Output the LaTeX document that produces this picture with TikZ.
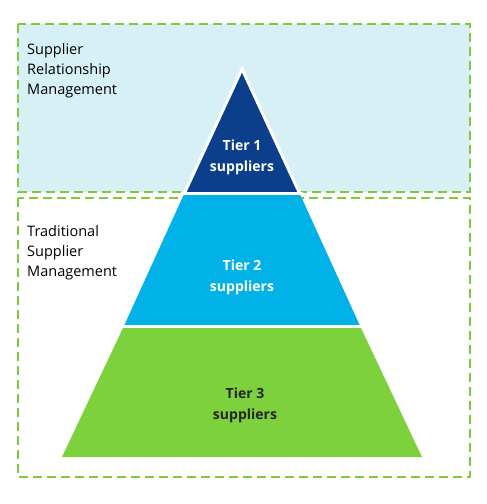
\documentclass[tikz,border=0pt]{standalone}
\usepackage{fontspec}
\setmainfont{Open Sans}
\definecolor{navy}{HTML}{0B3F8C}
\definecolor{cyanb}{HTML}{00B2E8}
\definecolor{greenb}{HTML}{7DD13C}
\definecolor{dashg}{HTML}{7DCB3A}
\definecolor{lightb}{HTML}{D6F0F5}
\begin{document}
\begin{tikzpicture}[x=1pt,y=-1pt,
  zone/.style={draw=dashg,line width=2.6pt,dash pattern=on 9pt off 5pt},
  sep/.style={draw=white,line width=3pt},
  lbl/.style={anchor=north west,align=left,font=\fontsize{14.5}{20}\selectfont,inner sep=0pt,text=black},
  tlbl/.style={align=center,font=\fontsize{14}{21}\selectfont\bfseries,inner sep=0pt}]
\useasboundingbox (0,0) rectangle (487,504);
\fill[white] (0,0) rectangle (487,504);
\draw[zone,fill=lightb] (18,24) rectangle (470,192);
\draw[zone] (18,198) rectangle (470,477);
% pyramid: apex (242,69), base y=457 from 62 to 422
\coordinate (apex) at (242,69);
\coordinate (a1l) at (184.3,193.5);
\coordinate (a1r) at (299.7,193.5);
\coordinate (a2l) at (123.7,326.5);
\coordinate (a2r) at (360.3,326.5);
\coordinate (bl) at (62,457);
\coordinate (br) at (422,457);
\fill[navy] (apex) -- (a1r) -- (a1l) -- cycle;
\fill[cyanb] (a1l) -- (a1r) -- (a2r) -- (a2l) -- cycle;
\fill[greenb] (a2l) -- (a2r) -- (br) -- (bl) -- cycle;
\draw[sep,line join=miter] (a1l) -- (apex) -- (a1r);
\draw[sep] ([xshift=-3pt]a1l) -- ([xshift=3pt]a1r);
\draw[sep] ([xshift=-3pt]a2l) -- ([xshift=3pt]a2r);
\node[tlbl,text=white] (t1) at (242,157) {Tier 1\\suppliers};
\node[tlbl,text=white] (t2) at (242,277) {Tier 2\\suppliers};
\node[tlbl,text=black!85] (t3) at (245,405) {Tier 3\\suppliers};
\node[lbl] (srm) at (27,43) {Supplier\\Relationship\\Management};
\node[lbl] (tsm) at (27,225) {Traditional\\Supplier\\Management};
\end{tikzpicture}
\end{document}
